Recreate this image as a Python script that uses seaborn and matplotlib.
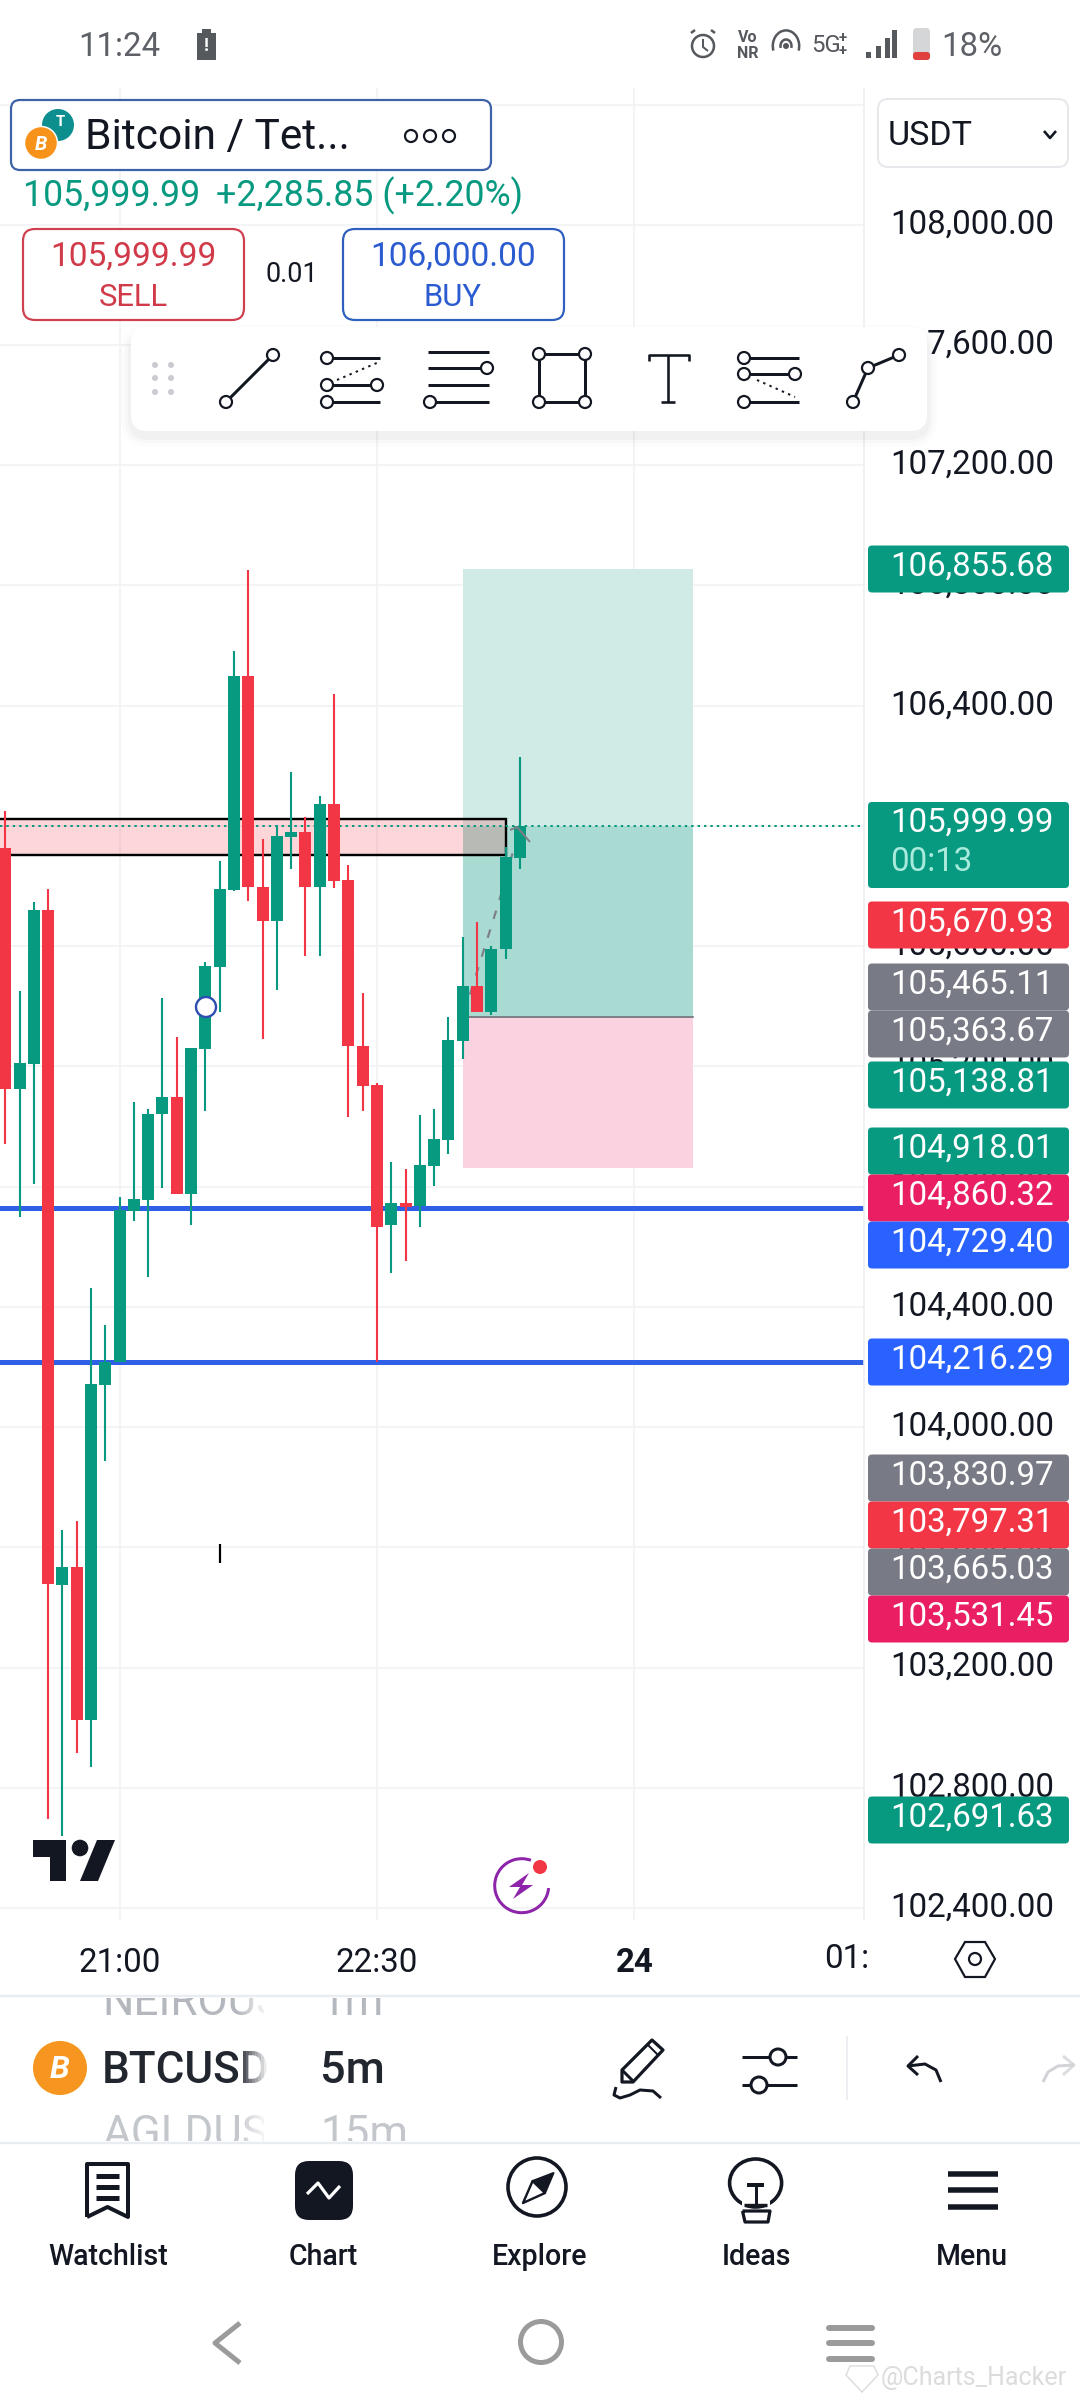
import numpy as np
import pandas as pd
import matplotlib
matplotlib.use("Agg")
import matplotlib.pyplot as plt
from matplotlib.patches import FancyBboxPatch, Rectangle, Circle, Polygon, Ellipse, Arc
from matplotlib.transforms import ScaledTranslation
import seaborn as sns

# ---------- data ----------
opens = [105925,105125,105209,105720,103475,103534,103027,104140,104218,104720,104756,105040,105098,
         104777,105259,105532,105787,106499,105798,105685,105964,105980,105798,106073,105820,105267,
         105139,104671,104745,104735,104870,104956,105286,105467,105382,105590,105892]
highs = [106049,105451,105746,105790,103658,103687,104462,104340,104765,105082,105058,105426,105297,
         105261,105547,105883,106582,106851,105956,106003,106179,106031,106099,106439,105869,105445,
         105146,104882,104860,105038,105059,105365,105630,105681,105599,105929,106229]
lows = [104942,104700,104810,102695,102641,102915,102870,103888,104218,104684,104498,104797,104777,
        104672,105053,105382,105785,105751,105291,105454,105856,105568,105568,105794,105030,105053,
        104218,104511,104554,104667,104803,104907,105226,105382,105372,105556,105858]
closes = [105125,105211,105720,103479,103534,103027,104143,104215,104722,104759,105042,105098,104777,
          105261,105534,105790,106499,105798,105685,105966,105980,105798,106073,105818,105267,105136,
          104667,104744,104733,104871,104959,105287,105467,105382,105592,105895,105999.99]
price_ticks = [102400,102800,103200,103600,104000,104400,104800,105200,105600,106000,106400,106800,
               107200,107600,108000,108400]
time_tick_bars = [8, 26, 44]
time_tick_labels = ["21:00", "22:30", "24"]
last_price = 105999.99
level_a = 104729.40
level_b = 104216.29
zone_top, zone_bottom = 106023, 105904
zone_end_bar = 35
pos_start_bar, pos_end_bar = 32, 48.1
pos_target, pos_entry, pos_stop = 106855.68, 105363.67, 104860.32
path_bars = [32.5, 34.5, 35.6]
path_prices = [105439, 105743, 105929]

label_texts = ["106,855.68","105,670.93","105,465.11","105,363.67","105,138.81","104,918.01","104,860.32",
               "104,729.40","104,216.29","103,830.97","103,797.31","103,665.03","103,531.45","102,691.63"]
label_centers = [569,925,987,1034,1085,1151,1198,1245,1362,1478,1525,1572,1619,1820]
GREEN, RED, GREY, PINK, BLUE = "#089981", "#f23645", "#787b86", "#e91e63", "#2962ff"
label_colors = [GREEN,RED,GREY,GREY,GREEN,GREEN,PINK,BLUE,BLUE,GREY,RED,GREY,PINK,GREEN]

# ---------- set-up ----------
sns.set_theme(style="white")
plt.rcParams["font.family"] = ["Roboto", "DejaVu Sans"]
W, H = 1080, 2400
fig = plt.figure(figsize=(W/100, H/100), dpi=100, facecolor="white")
px = lambda v: v*0.72
INK = "#131722"

AX_L, AX_R, AX_T, AX_B = 0, 864, 88, 1920
ax = fig.add_axes([AX_L/W, 1-AX_B/H, (AX_R-AX_L)/W, (AX_B-AX_T)/H], zorder=1)

n = len(opens)
direction = ["up" if c >= o else "down" for o, c in zip(opens, closes)]
wicks = pd.DataFrame({"bar": list(range(n))*2, "price": highs+lows, "dir": direction*2})
bodies = pd.DataFrame({"bar": list(range(n))*2, "price": opens+closes, "dir": direction*2})
pal = {"up": GREEN, "down": RED}

# background drawings
ax.add_patch(Rectangle((pos_start_bar, pos_entry), pos_end_bar-pos_start_bar, pos_target-pos_entry,
                       fc="#d0ebe5", ec="none", zorder=1.2))
ax.add_patch(Rectangle((pos_start_bar, pos_entry), pos_end_bar-pos_start_bar, last_price-pos_entry,
                       fc="#a9dbd2", ec="none", zorder=1.3))
ax.add_patch(Rectangle((pos_start_bar, pos_stop), pos_end_bar-pos_start_bar, pos_entry-pos_stop,
                       fc="#fbd2e0", ec="none", zorder=1.3))
ax.plot([pos_start_bar, pos_end_bar], [pos_entry, pos_entry], color="#7d8087", lw=px(2), zorder=1.4)
ax.add_patch(Rectangle((-2, zone_bottom), zone_end_bar+2, zone_top-zone_bottom,
                       fc=RED, alpha=0.2, ec="none", zorder=1.5))
ax.add_patch(Rectangle((-2, zone_bottom), zone_end_bar+2, zone_top-zone_bottom,
                       fc="none", ec="black", lw=px(2.4), zorder=1.6))
ax.axhline(level_a, color="#2f5fe6", lw=px(5), zorder=1.7)
ax.axhline(level_b, color="#2f5fe6", lw=px(5), zorder=1.7)
ax.axhline(last_price, color=GREEN, lw=px(2), ls=(0, (1.2, 2)), zorder=1.8)
ax.plot(path_bars, path_prices, color="#7d8087", lw=px(2.2), ls=(0, (4, 5)), zorder=1.9)

sns.lineplot(data=wicks, x="bar", y="price", units="bar", hue="dir", palette=pal, estimator=None,
             sort=False, legend=False, linewidth=px(2.1), solid_capstyle="butt", ax=ax, zorder=3)
sns.lineplot(data=bodies, x="bar", y="price", units="bar", hue="dir", palette=pal, estimator=None,
             sort=False, legend=False, linewidth=px(12), solid_capstyle="butt", ax=ax, zorder=4)

ax.set_xlim(-0.364, 60.06)
ax.set_ylim(102360, 108455)
ax.set_xlabel(""); ax.set_ylabel("")
ax.set_xticks(time_tick_bars, time_tick_labels)
ax.set_yticks(price_ticks, [f"{p:,.2f}" if p < 108400 else "" for p in price_ticks])
ax.yaxis.tick_right()
ax.tick_params(axis="y", length=0, pad=px(26), labelsize=px(33), labelcolor=INK)
ax.tick_params(axis="x", length=0, pad=px(27), labelsize=px(33), labelcolor=INK)
ax.get_xticklabels()[2].set_fontweight("bold")
up = ScaledTranslation(0, 4/100, fig.dpi_scale_trans)
for lb in ax.get_yticklabels():
    lb.set_transform(lb.get_transform() + up)
ax.grid(True, color="#f1f2f4", lw=px(1.6), zorder=0)
ax.set_axisbelow(True)
for s in ["top", "left", "bottom"]:
    ax.spines[s].set_visible(False)
ax.spines["right"].set_color("#eceef1")
ax.spines["right"].set_linewidth(px(1.6))
ax.patch.set_alpha(0)

# ---------- overlay in screen pixels ----------
ov = fig.add_axes([0, 0, 1, 1], zorder=2)
ov.set_xlim(0, W); ov.set_ylim(H, 0); ov.axis("off")

def rrect(x0, y0, x1, y1, r, fc="white", ec="none", lw=0, alpha=None, z=5):
    p = FancyBboxPatch((x0+r, y0+r), x1-x0-2*r, y1-y0-2*r, boxstyle=f"round,pad={r},rounding_size={r}",
                       fc=fc, ec=ec, lw=px(lw), alpha=alpha, zorder=z)
    ov.add_patch(p); return p

def txt(x, y, s, size, color=INK, ha="left", va="center", weight="normal", z=8, **kw):
    return ov.text(x, y+3, s, fontsize=px(size), color=color, ha=ha, va=va, fontweight=weight, zorder=z, **kw)

def poly(pts, color=INK, lw=3, z=8, **kw):
    xs, ys = zip(*pts)
    ov.plot(xs, ys, color=color, lw=px(lw), zorder=z, solid_capstyle=kw.pop("cap", "butt"),
            solid_joinstyle="round", **kw)

def node(x, y, r=6, z=9, lw=2.2):
    ov.add_patch(Circle((x, y), r, fc="white", ec=INK, lw=px(lw), zorder=z))

# price labels
for s, yc, c in zip(label_texts, label_centers, label_colors):
    rrect(868, yc-23.5, 1069, yc+23.5, 4, fc=c, z=5)
    txt(890, yc-5, s, 33, color="white", z=6)
rrect(868, 802, 1069, 888, 4, fc=GREEN, z=5)
txt(890, 820, "105,999.99", 33, color="white", z=6)
txt(890, 859, "00:13", 33, color="#a8eadb", z=6)

# status bar
txt(78, 44, "11:24", 33, color="#5d6066")
ov.add_patch(Rectangle((197, 33), 19, 27, fc="#55585d", ec="none", zorder=6))
ov.add_patch(Rectangle((202, 29), 9, 4, fc="#55585d", ec="none", zorder=6))
txt(206.5, 43, "!", 18, color="white", ha="center", weight="bold")
SC = "#55585d"
ov.add_patch(Circle((703, 46), 11, fc="none", ec=SC, lw=px(2.5), zorder=6))
poly([(703, 39), (703, 47), (708, 51)], color=SC, lw=2)
poly([(691, 33), (695, 30)], color=SC, lw=2.5); poly([(711, 30), (715, 33)], color=SC, lw=2.5)
txt(748, 35, "Vo", 16, color=SC, ha="center", weight="bold")
txt(748, 50, "NR", 16, color=SC, ha="center", weight="bold")
for r in (5, 12):
    ov.add_patch(Arc((786, 46), 2*r*1.1, 2*r*1.3, theta1=160, theta2=380, ec=SC, lw=px(2.5), zorder=6))
ov.add_patch(Circle((786, 46), 3, fc=SC, ec="none", zorder=6))
txt(811, 42, "5G", 24, color=SC)
txt(843, 35, "+", 15, color=SC, ha="center", weight="bold"); txt(843, 48, "+", 15, color=SC, ha="center", weight="bold")
for x, t in zip((868, 878, 887, 894), (52, 46, 38, 30)):
    ov.add_patch(Rectangle((x-2, t), 4.5, 58-t, fc=SC, ec="none", zorder=6))
rrect(913, 28, 930, 60, 4, fc="#d5d6d8", z=6)
rrect(913, 52, 930, 60, 3, fc="#e0413f", z=7)
txt(941, 44, "18%", 33, color="#5d6066")

# symbol box
rrect(11, 100, 491, 170, 9, fc="white", ec="#3d62a8", lw=2.2, z=5)
ov.add_patch(Circle((58, 125), 16, fc="#0e8f8f", ec="none", zorder=6))
txt(60, 119, "T", 15, color="white", ha="center", weight="bold")
ov.add_patch(Circle((41, 143), 16.5, fc="#f7931a", ec="white", lw=px(1.5), zorder=7))
txt(41, 141, "B", 20, color="white", ha="center", weight="bold", style="italic")
txt(85, 134, "Bitcoin / Tet...", 42.5)
for x in (411, 430, 449):
    ov.add_patch(Circle((x, 136), 6, fc="white", ec=INK, lw=px(2.2), zorder=7))

# quote row
txt(23, 193, "105,999.99", 35.8, color=GREEN)
txt(216, 193, "+2,285.85 (+2.20%)", 35.7, color=GREEN)

# sell / buy
rrect(23, 229, 244, 320, 12, fc="white", ec="#cf4150", lw=2.2)
txt(133, 254, "105,999.99", 33.5, color="#d13a49", ha="center")
txt(133, 295, "SELL", 31, color="#d13a49", ha="center")
rrect(343, 229, 564, 320, 12, fc="white", ec="#2f5fbf", lw=2.2)
txt(453, 254, "106,000.00", 33.5, color="#2b5bd0", ha="center")
txt(453, 295, "BUY", 31, color="#2b5bd0", ha="center")
txt(292, 271, "0.01", 27, ha="center")

# currency dropdown
rrect(878, 99, 1068, 167, 10, fc="white", ec="#e6e8ec", lw=2)
txt(888, 133, "USDT", 34)
poly([(1044, 131), (1050, 138), (1056, 131)], lw=2.6)

# drawing toolbar
for g, a in zip((10, 6, 3), (0.012, 0.018, 0.025)):
    rrect(131-g, 327-g+8, 927+g, 431+g+6, 18+g, fc="black", alpha=a, z=5)
rrect(131, 327, 927, 431, 16, fc="white", z=6)
for x in (155, 171):
    for y in (365, 378, 392):
        ov.add_patch(Circle((x, y), 3, fc="#c9cbd0", ec="none", zorder=8))
poly([(226, 402), (273, 355)])
node(226, 402); node(273, 355)
for y, xe in ((358, 380), (385, 377), (402, 380)):
    poly([(327, y), (xe, y)])
    node(327, y)
node(377, 385)
poly([(337, 380), (379, 362)], lw=2, ls=(0, (1.2, 2.2)))
for y in (352, 385):
    poly([(428, y), (489, y)])
poly([(428, 368), (487, 368)]); node(487, 368)
poly([(430, 402), (489, 402)]); node(430, 402)
poly([(539, 354), (585, 354), (585, 402), (539, 402), (539, 354)])
for p in ((539, 354), (585, 354), (539, 402), (585, 402)):
    node(*p)
poly([(649, 361), (649, 355), (689, 355), (689, 361)], lw=2.6)
poly([(668, 355), (668, 402)], lw=2.6); poly([(661, 402), (675, 402)], lw=2.6)
for y, xe in ((358, 799), (374, 795), (402, 799)):
    poly([(744, y), (xe, y)])
    node(744, y)
node(795, 374)
poly([(757, 380), (795, 397)], lw=2, ls=(0, (1.2, 2.2)))
poly([(853, 402), (868, 368), (899, 355)])
for p in ((853, 402), (868, 368), (899, 355)):
    node(*p)

# chart annotations
ov.add_patch(Circle((206, 1007), 10, fc="white", ec="#2f4fb0", lw=px(2.4), zorder=6))
poly([(220, 1544), (220, 1563)], color="black", lw=2.2)
poly([(510, 830), (517, 827), (530, 842)], color="#7d8087", lw=2, z=0.5)
ov.add_patch(Polygon([(33, 1840), (66, 1840), (66, 1881), (50, 1881), (50, 1857), (33, 1857)], fc=INK, ec="none", zorder=6))
ov.add_patch(Circle((80, 1848), 8.3, fc=INK, ec="none", zorder=6))
ov.add_patch(Polygon([(97, 1840), (115, 1840), (98, 1881), (80, 1881)], fc=INK, ec="none", zorder=6))
ov.add_patch(Arc((521.7, 1885.7), 54, 54, theta1=5, theta2=290, angle=0, ec="#8e24aa", lw=px(3), zorder=6))
ov.add_patch(Polygon([(529, 1873), (509, 1887), (520, 1887), (513, 1899), (533, 1885), (522, 1885)], fc="#8e24aa", ec="none", zorder=6))
ov.add_patch(Circle((540, 1867), 7, fc="#f23645", ec="none", zorder=7))

# time axis extras
txt(824, 1956, "01:", 33)
ov.add_patch(Polygon([(965, 1942), (985, 1942), (995, 1959), (985, 1977), (965, 1977), (955, 1959)], fc="white", ec=INK, lw=px(2.2), zorder=6))
ov.add_patch(Circle((975, 1959), 6, fc="white", ec=INK, lw=px(2.2), zorder=7))
ov.plot([0, W], [1996, 1996], color="#e9edf2", lw=px(2.4), zorder=5)
ov.plot([0, W], [2143, 2143], color="#e9edf2", lw=px(2.4), zorder=5)

# symbol / interval selector (rows scroll and are cut by the panel edges)
def clipped(x, y, s, size, color, x1, weight="normal"):
    t = txt(x, y, s, size, color=color, weight=weight, z=6)
    t.set_clip_on(True)
    t.set_clip_path(Rectangle((x-2, 1998), x1-x+2, 143, transform=ov.transData))
    return t
clipped(102, 2000, "NEIROUSDT", 44, "#b4b7bd", 264)
clipped(102, 2068, "BTCUSDT", 44, "#22262f", 270, weight="medium")
clipped(102, 2132, "AGLDUSDT", 44, "#c3c6cb", 264)
for i, x in enumerate(np.arange(240, 270, 3)):
    ov.add_patch(Rectangle((x, 1998), 3, 143, fc="white", ec="none", alpha=min(1, 0.1*(i+1)), zorder=7))
clipped(320, 2000, "1m", 44, "#b4b7bd", 420)
clipped(320, 2068, "5m", 45, "#22262f", 420, weight="medium")
clipped(320, 2132, "15m", 44, "#c3c6cb", 420)
ov.add_patch(Circle((60, 2068), 27, fc="#f6951f", ec="none", zorder=6))
txt(60, 2066, "B", 32, color="white", ha="center", weight="bold", style="italic")

# pen, sliders, undo, redo
ov.add_patch(Polygon([(622, 2082), (622, 2070), (652, 2040), (663, 2050), (633, 2082)], fc="white", ec=INK, lw=px(3.2), joinstyle="round", zorder=6))
poly([(622, 2070), (633, 2081)], lw=3); poly([(648, 2045), (658, 2055)], lw=2)
poly([(616, 2087), (614, 2095), (620, 2098), (630, 2095), (640, 2090), (653, 2091), (661, 2098)], lw=3)
poly([(742, 2057), (797, 2057)]); poly([(742, 2085), (797, 2085)])
node(778, 2057, r=8, lw=3); node(759, 2085, r=8, lw=3)
poly([(847, 2036), (847, 2100)], color="#eceef1", lw=2)
poly([(918, 2056), (908, 2066), (918, 2075)], lw=3)
poly([(908, 2066), (925, 2064), (936, 2070), (941, 2082)], lw=3)
poly([(1063, 2056), (1074, 2065), (1063, 2075)], color="#dcdde0", lw=3)
poly([(1043, 2082), (1048, 2072), (1058, 2066), (1074, 2065)], color="#d2d3d6", lw=3)

# bottom nav
poly([(87, 2217), (87, 2164), (128, 2164), (128, 2217), (107.5, 2207), (87, 2217)], lw=4)
for y in (2176, 2187, 2198):
    poly([(96, y), (119, y)], lw=5)
rrect(295, 2161, 353, 2220, 14, fc=INK, z=6)
poly([(307, 2194), (318, 2183), (329, 2198), (340, 2186)], color="white", lw=3.2)
ov.add_patch(Circle((537, 2187), 29, fc="white", ec=INK, lw=px(3.6), zorder=6))
ov.add_patch(Polygon([(553.5, 2173), (532.6, 2181), (545, 2193)], fc=INK, ec=INK, lw=px(2), joinstyle="round", zorder=7))
ov.add_patch(Polygon([(532.6, 2181), (523, 2203), (545, 2193)], fc="white", ec=INK, lw=px(2.4), joinstyle="round", zorder=7))
ov.add_patch(Ellipse((755.6, 2183), 52, 48, fc="white", ec=INK, lw=px(3.6), zorder=6))
poly([(742, 2204), (770, 2204)], color="white", lw=6, z=6.5)
poly([(744, 2205), (767, 2205)], lw=3.4)
poly([(747, 2185), (764, 2185)], lw=4); poly([(755.6, 2185), (755.6, 2204)], lw=3)
poly([(742.5, 2211), (770, 2211), (768, 2222), (745, 2222), (742.5, 2211)], lw=3.2)
for y in (2174, 2190, 2207):
    poly([(948, y), (998, y)], lw=5.5)
for x, s in zip((108, 323, 540, 756, 972), ("Watchlist", "Chart", "Explore", "Ideas", "Menu")):
    txt(x, 2254, s, 28.5, ha="center", weight="medium")

# android navigation
NAV = "#9b9b9b"
poly([(240, 2323), (215, 2343), (240, 2363)], color=NAV, lw=5)
ov.add_patch(Circle((541, 2342), 20.5, fc="white", ec=NAV, lw=px(5), zorder=6))
for y in (2328, 2343, 2359):
    poly([(829, y), (872, y)], color=NAV, lw=6, cap="round")
txt(881, 2375, "@Charts_Hacker", 25, color="#dcdcdc", z=9)
ov.add_patch(Polygon([(850, 2366), (874, 2366), (878, 2375), (862, 2392), (846, 2375)], fc="none", ec="#dedede", lw=px(1.5), zorder=9))

fig.savefig("out.png", dpi=100, facecolor="white")
